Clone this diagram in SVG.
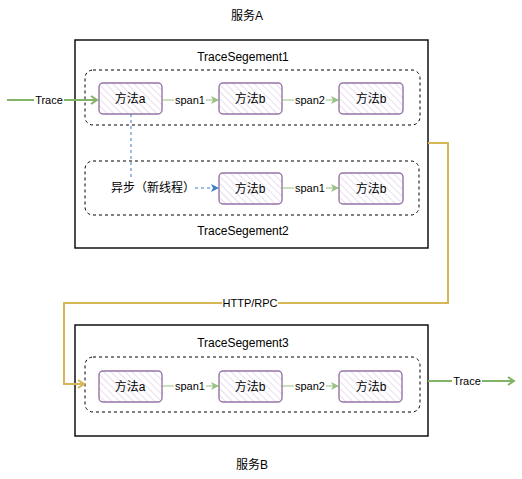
<svg xmlns="http://www.w3.org/2000/svg" width="522" height="479" viewBox="0 0 522 479">
<style>
text{font-family:"Liberation Sans","Noto Sans CJK SC",sans-serif;fill:#000}
.t{font-size:12px;text-anchor:middle}
.e{font-size:11px;text-anchor:middle}
.svc{fill:#fff;stroke:#000;stroke-width:1.4}
.seg{fill:none;stroke:#000;stroke-width:1;stroke-dasharray:3 3}
.node rect{fill:url(#hatch);stroke:#9673a6;stroke-width:1.4}
.g{fill:none;stroke:#82b366;stroke-width:2}
.gs{fill:none;stroke:#82b366;stroke-width:1.2;opacity:.8}
.y{fill:none;stroke:#d6b656;stroke-width:2}
.b{fill:none;stroke:#3d7ebf;stroke-width:1;stroke-dasharray:3 3}
.lb{fill:#fff}
</style>
<defs>
<pattern id="hatch" width="5" height="5" patternUnits="userSpaceOnUse" patternTransform="rotate(-45)">
<rect width="5" height="5" fill="#fff"/>
<line x1="0" y1="0" x2="0" y2="5" stroke="#e1d5e7" stroke-width="1.5"/>
</pattern>
<marker id="open" markerWidth="10" markerHeight="10" refX="8" refY="5" orient="auto" markerUnits="userSpaceOnUse">
<path d="M2,1 L8,5 L2,9" fill="none" stroke="#82b366" stroke-width="2"/>
</marker>
<marker id="blk" markerWidth="10" markerHeight="10" refX="9" refY="5" orient="auto" markerUnits="userSpaceOnUse">
<path d="M1,1 L9,5 L1,9 L3,5 Z" fill="#82b366"/>
</marker>
<marker id="yopen" markerWidth="10" markerHeight="10" refX="8" refY="5" orient="auto" markerUnits="userSpaceOnUse">
<path d="M2,1 L8,5 L2,9" fill="none" stroke="#d6b656" stroke-width="2"/>
</marker>
<marker id="bblk" markerWidth="10" markerHeight="10" refX="9" refY="5" orient="auto" markerUnits="userSpaceOnUse">
<path d="M1,1 L9,5 L1,9 L3,5 Z" fill="#3d7ebf"/>
</marker>
</defs>
<rect width="522" height="479" fill="#fff"/>

<g id="serviceA">
<rect class="svc" x="75" y="40" width="353" height="208"/>
<text class="t" x="247" y="20">服务A</text>
</g>
<g id="serviceB">
<rect class="svc" x="75" y="325" width="353" height="111"/>
<text class="t" x="252" y="469">服务B</text>
</g>

<g id="seg1">
<rect class="seg" x="85" y="70" width="335" height="55" rx="8"/>
<text class="t" x="243" y="61">TraceSegement1</text>
</g>
<g id="seg2">
<rect class="seg" x="85" y="161" width="334" height="54" rx="8"/>
<text class="t" x="243" y="235">TraceSegement2</text>
</g>
<g id="seg3">
<rect class="seg" x="85" y="357" width="335" height="55" rx="8"/>
<text class="t" x="243" y="347">TraceSegement3</text>
</g>

<g id="a1" class="node"><rect x="99" y="83" width="63" height="31" rx="4"/><text class="t" x="130" y="103">方法a</text></g>
<g id="b1" class="node"><rect x="219" y="83" width="63" height="31" rx="4"/><text class="t" x="250" y="103">方法b</text></g>
<g id="b2" class="node"><rect x="339" y="83" width="64" height="31" rx="4"/><text class="t" x="371" y="103">方法b</text></g>
<g id="b3" class="node"><rect x="219" y="173" width="63" height="31" rx="4"/><text class="t" x="250" y="193">方法b</text></g>
<g id="b4" class="node"><rect x="339" y="173" width="64" height="31" rx="4"/><text class="t" x="371" y="193">方法b</text></g>
<g id="a5" class="node"><rect x="99" y="371" width="63" height="31" rx="4"/><text class="t" x="130" y="391">方法a</text></g>
<g id="b5" class="node"><rect x="219" y="371" width="63" height="31" rx="4"/><text class="t" x="250" y="391">方法b</text></g>
<g id="b6" class="node"><rect x="339" y="371" width="63" height="31" rx="4"/><text class="t" x="371" y="391">方法b</text></g>

<g id="connectors">
<path class="g" d="M7,100 L97,100" marker-end="url(#open)"/>
<rect class="lb" x="34" y="93" width="30" height="14"/>
<text class="e" x="49" y="104">Trace</text>

<path class="gs" d="M162,100 L219,100" marker-end="url(#blk)"/>
<rect class="lb" x="174" y="93" width="32" height="14"/>
<text class="e" x="190" y="104">span1</text>
<path class="gs" d="M282,100 L339,100" marker-end="url(#blk)"/>
<rect class="lb" x="294" y="93" width="32" height="14"/>
<text class="e" x="310" y="104">span2</text>

<path class="b" d="M131,114 L131,188 L219,188" marker-end="url(#bblk)"/>
<rect class="lb" x="114" y="180" width="78" height="16"/>
<text class="t" x="153" y="192">异步（新线程）</text>

<path class="gs" d="M282,188 L339,188" marker-end="url(#blk)"/>
<rect class="lb" x="294" y="181" width="32" height="14"/>
<text class="e" x="310" y="192">span1</text>

<path class="y" d="M428,143 L448,143 L448,303 L64,303 L64,384 L84,384" marker-end="url(#yopen)"/>
<rect class="lb" x="222" y="296" width="56" height="14"/>
<text class="e" x="250" y="307">HTTP/RPC</text>

<path class="gs" d="M162,386 L219,386" marker-end="url(#blk)"/>
<rect class="lb" x="174" y="379" width="32" height="14"/>
<text class="e" x="190" y="390">span1</text>
<path class="gs" d="M282,386 L339,386" marker-end="url(#blk)"/>
<rect class="lb" x="294" y="379" width="32" height="14"/>
<text class="e" x="310" y="390">span2</text>

<path class="g" d="M428,381 L514,381" marker-end="url(#open)"/>
<rect class="lb" x="452" y="374" width="30" height="14"/>
<text class="e" x="467" y="385">Trace</text>
</g>
</svg>
